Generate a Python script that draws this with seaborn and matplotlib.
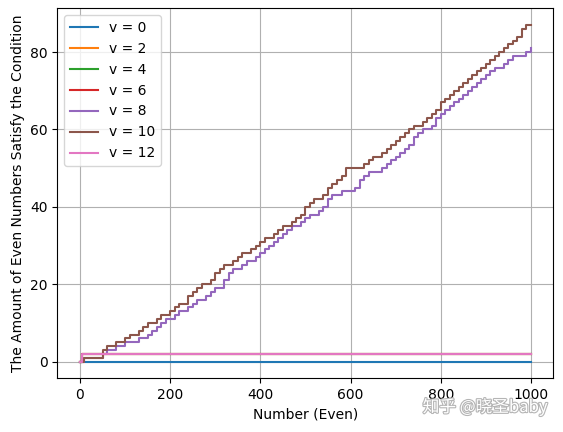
import matplotlib
matplotlib.use("Agg")
import matplotlib.pyplot as plt
import matplotlib.patheffects as pe
import seaborn as sns
import pandas as pd

# ---- data ----
labels = ["v = 0", "v = 2", "v = 4", "v = 6", "v = 8", "v = 10", "v = 12"]

# flat series
v0_x = [0, 1000]
v0_y = [0, 0]
flat_x = [0, 4, 1000]
flat_y = [0, 2, 2]          # v = 2, 4, 6, 12 (all drawn at level 2)

# step series, sampled every 10 units of the x axis
step_x = list(range(0, 1001, 10))
v8_y = [0, 1, 1, 1, 1, 2, 3, 3, 4, 4,
        5, 5, 5, 6, 6, 7, 8, 9, 10, 11,
        11, 12, 13, 13, 14, 15, 16, 16, 17, 18,
        19, 19, 21, 23, 24, 24, 25, 26, 26, 27,
        28, 29, 30, 31, 32, 33, 34, 35, 35, 36,
        37, 38, 38, 39, 40, 42, 43, 43, 44, 44,
        44, 45, 47, 48, 49, 49, 49, 50, 51, 52,
        53, 54, 55, 56, 58, 59, 60, 60, 61, 63,
        64, 65, 66, 67, 68, 69, 70, 71, 72, 73,
        74, 75, 76, 76, 77, 78, 79, 79, 79, 80,
        81]
v10_y = [0, 1, 1, 1, 1, 3, 4, 4, 5, 5,
         6, 7, 7, 8, 9, 10, 10, 11, 12, 12,
         13, 14, 15, 15, 17, 18, 19, 20, 20, 21,
         23, 24, 25, 25, 26, 27, 28, 28, 29, 30,
         31, 32, 32, 33, 34, 35, 35, 36, 37, 38,
         40, 41, 42, 42, 43, 45, 46, 47, 48, 50,
         50, 50, 50, 51, 52, 53, 53, 54, 55, 56,
         57, 58, 59, 60, 61, 61, 62, 63, 64, 65,
         67, 68, 69, 70, 71, 72, 73, 74, 75, 76,
         77, 78, 79, 80, 81, 82, 83, 84, 86, 87,
         87]

series = [
    (labels[0], v0_x, v0_y),
    (labels[1], flat_x, flat_y),
    (labels[2], flat_x, flat_y),
    (labels[3], flat_x, flat_y),
    (labels[4], step_x, v8_y),
    (labels[5], step_x, v10_y),
    (labels[6], flat_x, flat_y),
]

colors = sns.color_palette("tab10", 7)

fig = plt.figure(figsize=(5.63, 4.32), dpi=100)
ax = fig.add_axes([0.102, 0.124, 0.881, 0.857])

for (lab, xs, ys), c in zip(series, colors):
    df = pd.DataFrame({"x": xs, "y": ys})
    sns.lineplot(data=df, x="x", y="y", ax=ax, color=c, label=lab,
                 drawstyle="steps-post", linewidth=1.5, estimator=None)

ax.set_xlabel("Number (Even)")
ax.set_ylabel("The Amount of Even Numbers Satisfy the Condition")
ax.set_xticks([0, 200, 400, 600, 800, 1000])
ax.set_yticks([0, 20, 40, 60, 80])
ax.grid(True)
ax.legend(loc="upper left")

fig.text(0.972, 0.058, "知乎 @晓圣baby", ha="right", va="center",
         fontsize=12, color="white",
         family=["Noto Sans CJK SC", "DejaVu Sans"],
         path_effects=[pe.withStroke(linewidth=1.6, foreground="#b5b5b5")])

fig.savefig("out.png", dpi=100)
